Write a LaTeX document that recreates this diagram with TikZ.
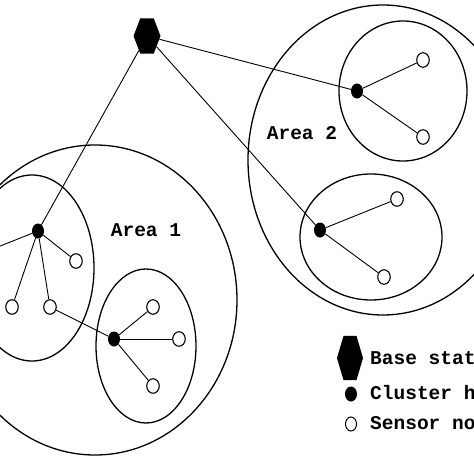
\documentclass[tikz,border=0pt]{standalone}
\usepackage{fontspec}
\setmonofont{Liberation Mono}
\usetikzlibrary{shapes.geometric}
\tikzset{
  sensor/.style={ellipse,draw,line width=1.1pt,minimum width=12.5pt,minimum height=14.5pt,inner sep=0pt,fill=white},
  head/.style={ellipse,fill=black,minimum width=12pt,minimum height=15pt,inner sep=0pt},
  hexa/.style={regular polygon,regular polygon sides=6,fill=black,minimum size=29pt,inner sep=0pt,xscale=0.93,yscale=1.4,transform shape},
  zone/.style={draw,line width=1.3pt},
  link/.style={line width=0.9pt},
  lbl/.style={font=\fontsize{19.5}{20}\selectfont\ttfamily\bfseries,inner sep=0pt},
  leg/.style={font=\fontsize{19.5}{20}\selectfont\ttfamily\bfseries,inner sep=0pt,anchor=west}
}
\begin{document}
\begin{tikzpicture}[x=1pt,y=-1pt]
\useasboundingbox (0,0) rectangle (474,474);
\clip (0,0) rectangle (474,474);
\fill[white] (0,0) rectangle (474,474);
% zones
\draw[zone] (383,160) ellipse [x radius=135, y radius=155];
\draw[zone] (403,91) ellipse [x radius=64, y radius=70];
\draw[zone] (371,237) ellipse [x radius=71, y radius=63];
\draw[zone] (95,300) ellipse [x radius=142, y radius=155];
\draw[zone] (32,268) ellipse [x radius=62, y radius=93];
\draw[zone] (146,346) ellipse [x radius=50, y radius=77];
% nodes
\node[hexa] (bs) at (147,36) {};
\node[head] (h1) at (357,91) {};
\node[head] (h2) at (320,230) {};
\node[head] (h3) at (38,231) {};
\node[head] (h4) at (114,339) {};
\node[sensor] (s1) at (423,60) {};
\node[sensor] (s2) at (423,137) {};
\node[sensor] (s3) at (397,199) {};
\node[sensor] (s4) at (384,277) {};
\node[sensor] (s5) at (76,261) {};
\node[sensor] (s6) at (12,307) {};
\node[sensor] (s7) at (50,307) {};
\node[sensor] (s8) at (153,307) {};
\node[sensor] (s9) at (179,339) {};
\node[sensor] (s10) at (153,386) {};
\coordinate (off) at (-30,258);
% links
\begin{scope}[on background layer/.style={}]
\draw[link] (bs) -- (h1);
\draw[link] (bs) -- (h2);
\draw[link] (bs) -- (h3);
\draw[link] (h1) -- (s1);
\draw[link] (h1) -- (s2);
\draw[link] (h2) -- (s3);
\draw[link] (h2) -- (s4);
\draw[link] (h3) -- (s5);
\draw[link] (h3) -- (s6);
\draw[link] (h3) -- (s7);
\draw[link] (h3) -- (off);
\draw[link] (s7) -- (h4);
\draw[link] (h4) -- (s8);
\draw[link] (h4) -- (s9);
\draw[link] (h4) -- (s10);
\end{scope}
% labels
\node[lbl] (a2) at (302,133) {Area 2};
\node[lbl] (a1) at (146,230) {Area 1};
% legend
\node[hexa,minimum size=28pt,yscale=1.3] (lbs) at (350,358) {};
\node[head] (lch) at (351,394) {};
\node[ellipse,draw,line width=1pt,minimum width=11pt,minimum height=14pt,inner sep=0pt] (lsn) at (351,424) {};
\node[leg] (t1) at (370,358) {Base station};
\node[leg] (t2) at (370,393) {Cluster head};
\node[leg] (t3) at (370,423) {Sensor node};
\end{tikzpicture}
\end{document}
